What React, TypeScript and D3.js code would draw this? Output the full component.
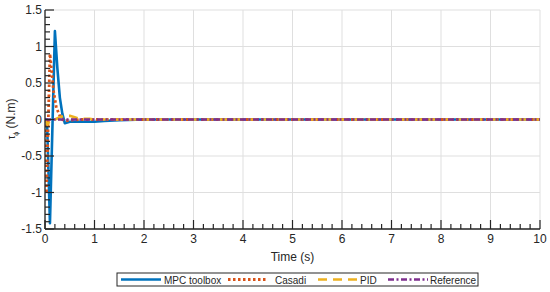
import React from "react";
import * as d3 from "d3";

const mpcT = [0, 0.04, 0.1, 0.2, 0.25, 0.3, 0.35, 0.4, 0.5, 0.7, 1.0, 1.2, 1.5, 2, 10];
const mpcV = [0, 0, -1.42, 1.21, 0.7, 0.3, 0.08, -0.05, -0.03, -0.03, -0.03, -0.02, -0.01, 0, 0];
const casT = [0, 0.03, 0.1, 0.13, 0.17, 0.23, 0.3, 0.35, 0.4, 0.5, 0.7, 10];
const casV = [0, -1.01, 0.9, 0.7, 0.4, 0.16, 0.05, 0, -0.02, -0.01, 0, 0];
const pidT = [0, 0.05, 0.1, 0.2, 0.3, 0.4, 0.5, 0.6, 0.7, 0.8, 0.9, 1.0, 1.2, 10];
const pidV = [0, -0.07, -0.02, 0.0, 0.03, 0.05, 0.05, 0.03, 0.01, 0.01, 0.01, 0.0, 0, 0];
const refT = [0, 10];
const refV = [0, 0];

const xTicks = [0, 1, 2, 3, 4, 5, 6, 7, 8, 9, 10];
const yTicks = [-1.5, -1, -0.5, 0, 0.5, 1, 1.5];
const legendNames = ["MPC toolbox", "Casadi", "PID", "Reference"];

const colors = ["#0072BD", "#D95319", "#EDB120", "#7E2F8E"];
const dashes = ["none", "2.5 2.5", "9 6", "6 2.5 2 2.5"];
const widths = [2.6, 2.8, 2.6, 2.6];

export default function App() {
  const left = 45, right = 540, top = 10, bottom = 229;
  const x = d3.scaleLinear().domain([0, 10]).range([left, right]);
  const y = d3.scaleLinear().domain([-1.5, 1.5]).range([bottom, top]);
  const line = d3.line<[number, number]>().x(d => x(d[0])).y(d => y(d[1]));
  const series = [
    mpcT.map((t, i) => [t, mpcV[i]] as [number, number]),
    casT.map((t, i) => [t, casV[i]] as [number, number]),
    pidT.map((t, i) => [t, pidV[i]] as [number, number]),
    refT.map((t, i) => [t, refV[i]] as [number, number]),
  ];
  const xMinor = d3.range(0, 10.001, 0.2);
  const yMinor = d3.range(-1.5, 1.5001, 0.1);
  const font = "Liberation Sans, Arial, sans-serif";
  const axisColor = "#262626";

  const legendX = [121, 228, 318, 388];
  const legendTextX = [164, 275, 360, 430];

  return (
    <svg width={550} height={292} style={{ position: "absolute", left: 0, top: 0, background: "#fff" }} fontFamily={font}>
      {xTicks.map(t => (
        <line key={"gx" + t} x1={x(t)} x2={x(t)} y1={top} y2={bottom} stroke="#dfdfdf" strokeWidth={1} />
      ))}
      {yTicks.map(t => (
        <line key={"gy" + t} x1={left} x2={right} y1={y(t)} y2={y(t)} stroke="#dfdfdf" strokeWidth={1} />
      ))}
      <defs>
        <clipPath id="clip">
          <rect x={left} y={top} width={right - left} height={bottom - top} />
        </clipPath>
      </defs>
      <g clipPath="url(#clip)">
        {series.map((s, i) => (
          <path key={i} d={line(s) || ""} fill="none" stroke={colors[i]} strokeWidth={widths[i]}
            strokeDasharray={dashes[i]} strokeLinejoin="round" />
        ))}
      </g>
      <line x1={left} x2={right} y1={bottom} y2={bottom} stroke={axisColor} strokeWidth={1.3} />
      <line x1={left} x2={left} y1={top} y2={bottom} stroke={axisColor} strokeWidth={1.3} />
      {xMinor.map((t, i) => (
        <line key={"xm" + i} x1={x(t)} x2={x(t)} y1={bottom} y2={bottom - (i % 5 === 0 ? 9 : 5)} stroke={axisColor} strokeWidth={1.2} />
      ))}
      {yMinor.map((t, i) => (
        <line key={"ym" + i} x1={left} x2={left + (i % 5 === 0 ? 9 : 5)} y1={y(t)} y2={y(t)} stroke={axisColor} strokeWidth={1.2} />
      ))}
      {xTicks.map(t => (
        <text key={"xl" + t} x={x(t)} y={243} fontSize={12} textAnchor="middle" fill={axisColor}>{t}</text>
      ))}
      {yTicks.map(t => (
        <text key={"yl" + t} x={42} y={y(t) + 4.3} fontSize={12} textAnchor="end" fill={axisColor}>{t}</text>
      ))}
      <text x={(left + right) / 2} y={261} fontSize={12} textAnchor="middle" fill={axisColor}>Time (s)</text>
      <text transform={`translate(15,119) rotate(-90)`} fontSize={12} textAnchor="middle" fill={axisColor}>
        <tspan fontSize={10}>τ</tspan>
        <tspan fontSize={7} dy={3}>ϕ</tspan>
        <tspan dy={-3}> (N.m)</tspan>
      </text>
      <rect x={117} y={273} width={361} height={13} fill="#fff" stroke={axisColor} strokeWidth={1} />
      {legendNames.map((n, i) => (
        <g key={n}>
          <line x1={legendX[i]} x2={legendX[i] + 40} y1={279.5} y2={279.5} stroke={colors[i]} strokeWidth={widths[i]} strokeDasharray={dashes[i]} />
          <text x={legendTextX[i]} y={283.5} fontSize={10} fill={axisColor}>{n}</text>
        </g>
      ))}
    </svg>
  );
}
